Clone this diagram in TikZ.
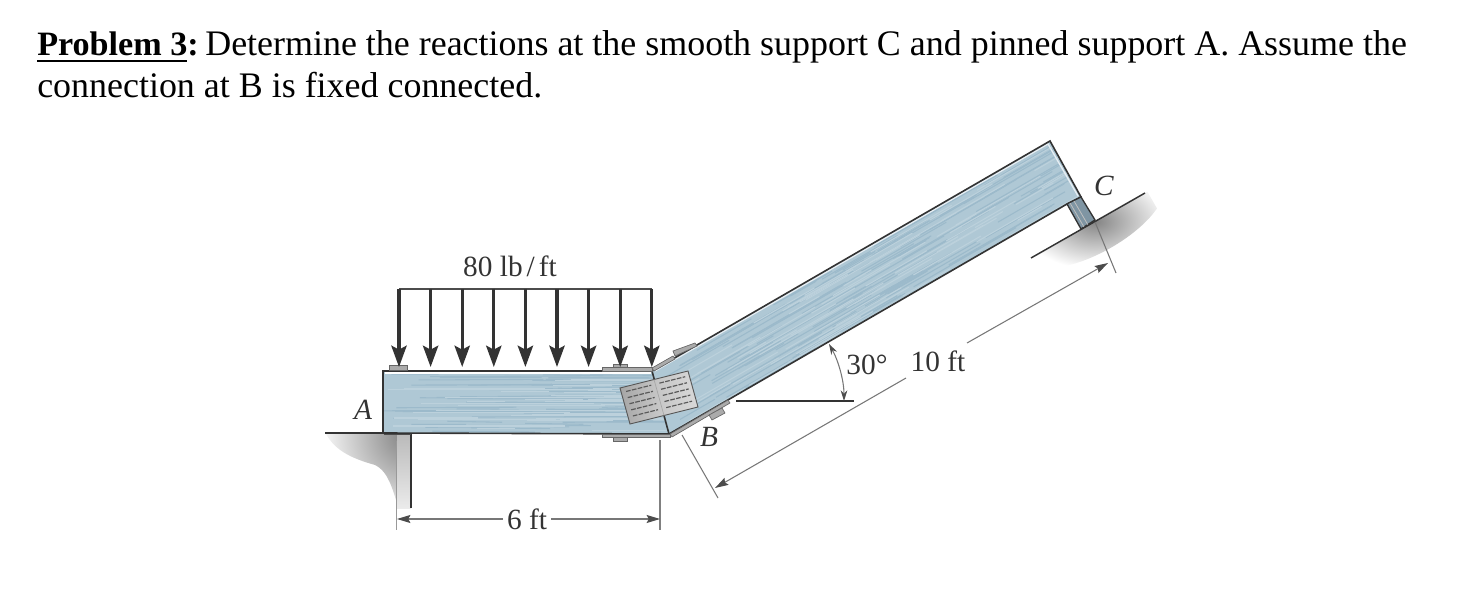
\documentclass[tikz,border=0pt]{standalone}
\usepackage{fontspec}
\setmainfont{Liberation Serif}
\usetikzlibrary{arrows.meta,calc}
\definecolor{woodbase}{HTML}{AFC8D5}
\definecolor{wooddark}{HTML}{9CBACB}
\definecolor{woodlight}{HTML}{BCD1DC}
\definecolor{inkc}{HTML}{333333}
\definecolor{dimc}{HTML}{777777}
\definecolor{platec}{HTML}{ABABAB}
\definecolor{postc}{HTML}{7F95A3}
\tikzset{
  titletext/.style={anchor=base west,inner sep=0pt,font=\fontsize{26.95pt}{32pt}\selectfont,text=black},
  lab/.style={inner sep=0pt,font=\fontsize{22pt}{26pt}\selectfont,text=black!80},
  ilab/.style={inner sep=0pt,font=\fontsize{22pt}{26pt}\selectfont\itshape,text=black!80},
  beamedge/.style={draw=inkc,line width=1.2pt,line join=miter},
  dimline/.style={draw=dimc,line width=0.8pt},
  dimarrow/.style={dimline,-{Stealth[length=10pt,width=6pt,inset=1.5pt,color=black!70]}},
  anglearrow/.style={draw=dimc,line width=0.8pt,{Stealth[length=8pt,width=5pt,color=black!70]}-{Stealth[length=8pt,width=5pt,color=black!70]}},
  loadarrow/.style={draw=inkc,line width=2.3pt,-{Stealth[length=16pt,width=11.5pt,inset=3pt,color=inkc]}},
  strip/.style={fill=platec,draw=black!60,line width=0.5pt},
  platedash/.style={draw=black!65,line width=0.9pt,dash pattern=on 3.5pt off 1pt},
}
\begin{document}
\begin{tikzpicture}[x=0.75pt,y=-0.75pt]
\useasboundingbox (0,0) rectangle (1460,598);
% key points
\coordinate (hTL) at (383,371);
\coordinate (hBL) at (383,433);
\coordinate (jT) at (652,371);
\coordinate (jB) at (669,434);
\coordinate (iTR) at (1050,141);
\coordinate (iBR) at (1081,197);
\coordinate (iBE) at (1067,204);
% title
\node[titletext] (t1) at (37,56) {{\fontsize{25.6pt}{32pt}\selectfont\bfseries\rlap{\rule[-4.7pt]{112.5pt}{2pt}}Problem 3:}\kern-1.8pt\ Determine the reactions at the smooth support C and pinned support A. Assume the};
\node[titletext] (t2) at (37,98) {connection at B is fixed connected.};
% ground at A
\begin{scope}
\clip (326,434) -- (411,434) -- (411,508) -- (396,500) .. controls (390,480) and (385,470) .. (375,465) .. controls (350,458) and (335,450) .. (326,434) -- cycle;
\shade[inner color=black!52,outer color=white] (411,434) circle (70pt);
\end{scope}
\shade[top color=black!27,bottom color=black!8] (397,434) rectangle (411,508);
\draw[inkc,line width=1pt] (325,433) -- (412,433);
\draw[inkc,line width=1.2pt] (411,433) -- (411,508);
\draw[black!70,line width=2pt] (384,433.5) -- (411,433.5);
% ground at C
\begin{scope}[shift={(1031,258)},rotate=29.7]
\clip (0,0) rectangle (134,34);
\shade[inner color=black!48,outer color=white] (74,0) ellipse (58pt and 23pt);
\end{scope}
% horizontal beam
\fill[woodbase] (hTL) -- (jT) -- (jB) -- (hBL) -- cycle;
\begin{scope}
\clip (hTL) -- (jT) -- (jB) -- (hBL) -- cycle;
\pgfmathsetseed{7}
\foreach \i in {1,...,60}{
  \pgfmathsetmacro{\yy}{373+rnd*59}
  \pgfmathsetmacro{\xa}{380+rnd*230}
  \pgfmathsetmacro{\ll}{30+rnd*160}
  \pgfmathsetmacro{\dy}{(rnd-0.5)*2}
  \draw[wooddark,line width=0.8pt] (\xa,\yy) -- ({\xa+\ll},{\yy+\dy});
}
\foreach \i in {1,...,40}{
  \pgfmathsetmacro{\yy}{373+rnd*59}
  \pgfmathsetmacro{\xa}{380+rnd*230}
  \pgfmathsetmacro{\ll}{30+rnd*160}
  \draw[woodlight,line width=0.8pt] (\xa,\yy) -- ({\xa+\ll},\yy);
}
\end{scope}
% inclined beam
\fill[woodbase] (jT) -- (iTR) -- (iBR) -- (iBE) -- (jB) -- cycle;
\begin{scope}
\clip (jT) -- (iTR) -- (iBR) -- (iBE) -- (jB) -- cycle;
\foreach \i in {1,...,120}{
  \pgfmathsetmacro{\tt}{rnd}
  \pgfmathsetmacro{\ss}{rnd*0.95}
  \pgfmathsetmacro{\ll}{0.05+rnd*0.25}
  \pgfmathsetmacro{\xa}{652+\tt*28+\ss*398}
  \pgfmathsetmacro{\ya}{371+\tt*60-\ss*230}
  \draw[wooddark,line width=0.8pt] (\xa,\ya) -- ({\xa+\ll*398},{\ya-\ll*230});
}
\foreach \i in {1,...,70}{
  \pgfmathsetmacro{\tt}{rnd}
  \pgfmathsetmacro{\ss}{rnd*0.95}
  \pgfmathsetmacro{\ll}{0.05+rnd*0.2}
  \pgfmathsetmacro{\xa}{652+\tt*28+\ss*398}
  \pgfmathsetmacro{\ya}{371+\tt*60-\ss*230}
  \draw[woodlight,line width=0.8pt] (\xa,\ya) -- ({\xa+\ll*398},{\ya-\ll*230});
}
\end{scope}
% highlights
\draw[white,line width=0.9pt] (385,373) -- (651,373);
\draw[white!70!woodbase,line width=1pt] (655,371) -- (1048,144) -- (1078,196);
% outlines
\draw[beamedge] (hBL) -- (hTL) -- (jT);
\draw[beamedge] (hBL) -- (jB);
\draw[beamedge] (jT) -- (jB);
\draw[beamedge] (jT) -- (iTR) -- (iBR) -- (iBE) -- (jB);
% angle plates and studs
\draw[strip] (389,365) rectangle (407,370);
\draw[strip] (602,367) rectangle (652,371);
\draw[strip] (613,364) rectangle (627,367);
\draw[strip] (602,434) -- (670,434) -- (670,437) -- (602,437) -- cycle;
\draw[strip] (613,437) rectangle (627,441);
\draw[strip] (652,368) -- (673,356) -- (675,359) -- (654,371) -- cycle;
\draw[strip] (673,351) -- (695,343) -- (697,346) -- (675,356) -- cycle;
\draw[strip] (670,434) -- (728,400) -- (730,403) -- (672,437) -- cycle;
\draw[strip] (709,415) -- (722,408) -- (725,413) -- (712,420) -- cycle;
% load
\coordinate (lL) at (399,289);
\coordinate (lR) at (652,289);
\draw[black!70,line width=0.8pt] (lL) -- (lR);
\foreach \k in {0,...,8}{
  \coordinate (la\k) at ({399+\k*31.6},289);
  \coordinate (lb\k) at ({399+\k*31.6},367);
  \draw[loadarrow] (la\k) -- (lb\k);
}
% gusset plate
\begin{scope}[shift={(620,388)},x={(51pt,12.75pt)},y={(7.5pt,-27pt)}]
\shade[left color=black!35,right color=black!15,middle color=black!22,draw=black!65,line width=0.7pt]
  (0,0) -- (1,0) -- (1,1) -- (0,1) -- cycle;
\draw[black!35,line width=0.5pt] (0.5,0) -- (0.5,1);
\foreach \r in {0.13,0.3,0.47,0.64,0.81}{
  \draw[platedash] (0.07,\r) -- (0.44,\r);
  \draw[platedash] (0.56,\r) -- (0.94,\r);
}
\end{scope}
% support at C
\fill[postc] (iBE) -- (iBR) -- (1095,220) -- (1081,229) -- cycle;
\draw[inkc,line width=1pt] (iBE) -- (iBR) -- (1095,220) -- (1081,229) -- cycle;
\draw[black!25,line width=0.6pt] (1074,201) -- (1088,225);
\draw[black!25,line width=0.6pt] (1070,203) -- (1084,227);
\coordinate (gA) at (1031,258);
\coordinate (gB) at (1145,193);
\draw[inkc,line width=1.1pt] (gA) -- (gB);
% 6 ft dimension
\coordinate (e1a) at (396.5,441);
\coordinate (e1b) at (396.5,530);
\coordinate (e2a) at (660,440);
\coordinate (e2b) at (660,530);
\draw[dimline,black!40] (e1a) -- (e1b);
\draw[dimline,black!50] (e2a) -- (e2b);
\node[lab] (six) at (527,519) {6 ft};
\coordinate (d1) at (397,519);
\coordinate (d2) at (660,519);
\coordinate (d1e) at (503,519);
\coordinate (d2e) at (551,519);
\draw[dimarrow] (d1e) -- (d1);
\draw[dimarrow] (d2e) -- (d2);
% 10 ft dimension
\coordinate (x1a) at (682,435);
\coordinate (x1b) at (718,498);
\coordinate (x2a) at (1095,222);
\coordinate (x2b) at (1116,273);
\draw[dimline] (x1a) -- (x1b);
\draw[dimline] (x2a) -- (x2b);
\coordinate (m1) at (715,488);
\coordinate (m2) at (1108,263);
\coordinate (g1) at (906,378);
\coordinate (g2) at (967,343);
\draw[dimarrow] (g1) -- (m1);
\draw[dimarrow] (g2) -- (m2);
\node[lab] (ten) at (938,361) {10 ft};
% 30 degree
\coordinate (h1) at (736,401);
\coordinate (h2) at (854,401);
\coordinate (a1) at (829,344);
\coordinate (a2) at (844,401);
\draw[inkc,line width=0.8pt] (h1) -- (h2);
\draw[anglearrow] (a1) .. controls (838,360) and (844,380) .. (a2);
\node[lab] (deg) at (867,365) {30°};
% labels
\node[lab] (load) at (510,266) {80 lb\kern3pt/\kern3pt ft};
\node[ilab] (A) at (363,410) {A};
\node[ilab] (B) at (709,437) {B};
\node[ilab] (C) at (1104,186) {C};
\end{tikzpicture}
\end{document}
